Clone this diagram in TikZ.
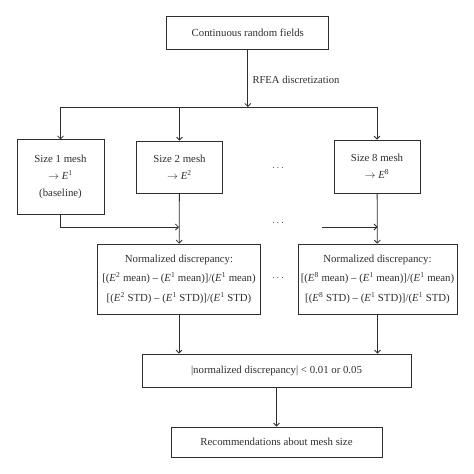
\documentclass[tikz,border=0pt]{standalone}
\usepackage{fontspec}
\setmainfont{Liberation Serif}
\usetikzlibrary{arrows.meta}
\definecolor{ink}{HTML}{2E2E2E}
\tikzset{
  box/.style={draw=ink, line width=0.8pt, text=ink, align=center, inner sep=2pt, font=\fontsize{10.8}{17}\selectfont},
  conn/.style={draw=ink, line width=0.8pt},
  arr/.style={conn, -{Straight Barb[length=3pt,width=6pt]}},
  dotsl/.style={text=ink, font=\fontsize{10}{12}\selectfont},
  lbl/.style={text=ink, font=\fontsize{10.6}{12}\selectfont, anchor=west}
}
\newcommand{\Ex}[1]{\textit{E}\textsuperscript{#1}}
\begin{document}
\begin{tikzpicture}[x=1pt,y=-1pt]
\useasboundingbox (0,0) rectangle (474,474);
\node[box, minimum width=162pt, minimum height=33pt] (top) at (247.8,32.7) {Continuous random fields};
\node[box, minimum width=87pt, minimum height=75pt] (box1) at (60.5,177.3) {Size 1 mesh\\ $\rightarrow$ \Ex{1}\\ (baseline)};
\node[box, minimum width=86pt, minimum height=52pt] (box2) at (179.5,167) {Size 2 mesh\\ $\rightarrow$ \Ex{2}};
\node[box, minimum width=86pt, minimum height=53pt] (box8) at (377,166.5) {Size 8 mesh\\ $\rightarrow$ \Ex{8}};
\node[dotsl] (d1) at (278,168) {$\cdots$};
\node[dotsl] (d2) at (278,223) {$\cdots$};
\node[dotsl] (d3) at (278,278) {$\cdots$};
\node[box, minimum width=163pt, minimum height=70pt, inner sep=1pt, font=\fontsize{10.8}{19.5}\selectfont] (disc1) at (179,279) {Normalized discrepancy:\\ {[}(\Ex{2} mean) -- (\Ex{1} mean)]/(\Ex{1} mean)\\ {[}(\Ex{2} STD) -- (\Ex{1} STD)]/(\Ex{1} STD)};
\node[box, minimum width=159pt, minimum height=70pt, inner sep=1pt, font=\fontsize{10.8}{19.5}\selectfont] (disc2) at (377.5,279) {Normalized discrepancy:\\ {[}(\Ex{8} mean) -- (\Ex{1} mean)]/(\Ex{1} mean)\\ {[}(\Ex{8} STD) -- (\Ex{1} STD)]/(\Ex{1} STD)};
\node[box, minimum width=269pt, minimum height=33pt] (crit) at (276.5,370.5) {|normalized discrepancy| < 0.01 or 0.05};
\node[box, minimum width=211pt, minimum height=30pt] (rec) at (276.5,442) {Recommendations about mesh size};
\coordinate (split) at (247.8,107);
\coordinate (hl) at (60.5,107);
\coordinate (hr) at (377,107);
\coordinate (in8) at (322,227);
\coordinate (join1) at (179,227);
\draw[arr] (top) -- (split) node[lbl, midway, xshift=1pt, yshift=-2pt] {RFEA discretization};
\draw[conn] (hl) -- (hr);
\draw[arr] (hl) -- (box1);
\draw[arr] (box2 |- split) -- (box2);
\draw[arr] (hr) -- (box8);
\draw[arr] (box1.south) |- (join1);
\draw[arr] (box2) -- (disc1);
\draw[arr] (box8) -- (disc2);
\draw[arr] (in8) -- (disc2.north |- in8);
\draw[arr] (disc1) -- (disc1 |- crit.north);
\draw[arr] (disc2) -- (disc2 |- crit.north);
\draw[arr] (crit) -- (rec);
\end{tikzpicture}
\end{document}
